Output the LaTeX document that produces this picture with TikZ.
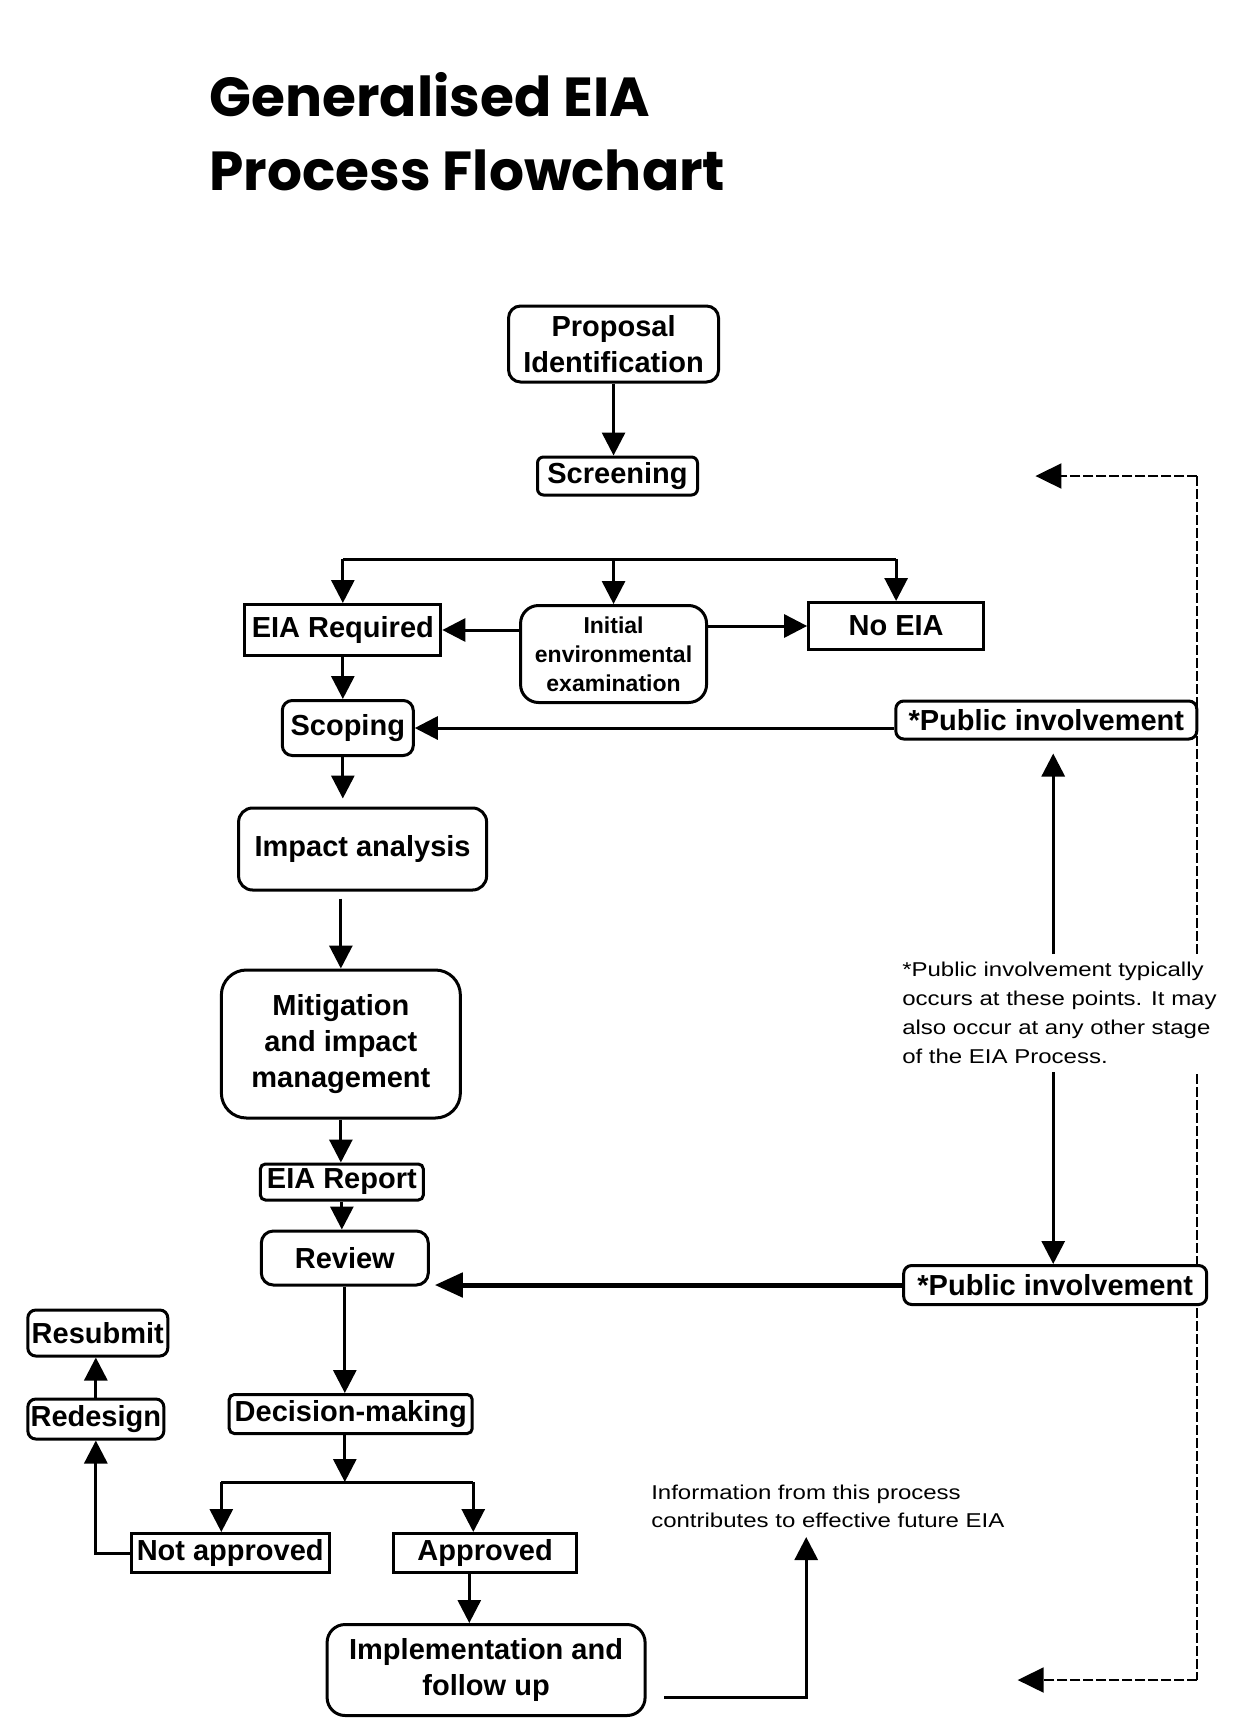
\documentclass[tikz,border=0pt]{standalone}
\usepackage{fontspec}
\setmainfont{Liberation Sans}
\newfontfamily\titlefont{Poppins}
\newfontfamily\notefont[FakeStretch=1.2]{Liberation Sans}
\usetikzlibrary{arrows.meta,calc}

\begin{document}
\begin{tikzpicture}[x=0.988pt,y=-1pt,
    box/.style={draw,line width=3pt,fill=white,inner sep=0pt,align=center,
        font=\fontsize{29}{36}\selectfont\bfseries},
    rbox/.style={box,rounded corners=#1},
    rbox/.default=10pt,
    link/.style={line width=3pt},
    arr/.style={line width=3pt,-{Triangle[length=23pt,width=23pt]}},
    dashline/.style={line width=2pt,dash pattern=on 10pt off 3pt,
        -{Triangle[length=26pt,width=25pt]}},
    note/.style={align=left,inner xsep=0pt,inner ysep=0pt,fill=white,
        font=\notefont\fontsize{20}{29}\selectfont}]
            \useasboundingbox (0,0) rectangle (1253,1733);
            % title
            \node [anchor=base west, inner sep=0pt,
                font=\titlefont\bfseries\fontsize{55}{74}\selectfont] (title) at (212,116) {Generalised EIA};
            \node [anchor=base west, inner sep=0pt,
                font=\titlefont\bfseries\fontsize{55}{74}\selectfont] (subtitle) at (212,190) {Process Flowchart};
            % dashed return path (drawn first, boxes lie over it)
            \coordinate (fbtop) at (1048,476);
            \coordinate (fbbot) at (1030,1680);
            \coordinate (fbside) at (1212,1000);
            \draw [line width=2pt, dash pattern=on 10pt off 3pt] (fbside |- fbtop) -- (fbside |- fbbot);
            \draw [dashline] (fbside |- fbtop) -- (fbtop);
            \draw [dashline] (fbside |- fbbot) -- (fbbot);
            % upper part
            \node [rbox=12pt, minimum width=210pt, minimum height=76pt] (prop) at (621,344) {Proposal\\Identification};
            \node [rbox=6pt, minimum width=160pt, minimum height=38pt] (screen) at (625,476) {Screening};
            \draw [arr] (prop.south) -- (prop.south |- screen.north);
            \coordinate (split) at (621,559);
            \node [rbox=18pt, minimum width=186pt, minimum height=97pt,
                font=\fontsize{23}{29}\selectfont\bfseries] (iee) at (621,654) {Initial\\environmental\\examination};
            \node [box, minimum width=196pt, minimum height=51pt] (eiareq) at (347,630) {EIA Required};
            \node [box, minimum width=175pt, minimum height=47pt] (noeia) at (907,626) {No EIA};
            \draw [link] (split -| prop.south) -- (split);
            \draw [link] (eiareq.north |- split) -- (noeia.north |- split);
            \draw [arr] (split) -- (iee.north);
            \draw [arr] (eiareq.north |- split) -- (eiareq.north);
            \draw [arr] (noeia.north |- split) -- (noeia.north);
            \draw [arr] (iee.west |- eiareq) -- (eiareq.east);
            \draw [arr] (iee.east |- noeia) -- (noeia.west);
            \node [rbox=10pt, minimum width=131pt, minimum height=55pt] (scoping) at (352,728) {Scoping};
            \draw [arr] (eiareq.south) -- (eiareq.south |- scoping.north);
            \node [rbox=8pt, minimum width=301pt, minimum height=38pt] (pubA) at (1059,720) {*Public involvement};
            \draw [arr] (pubA.west |- scoping) -- (scoping.east);
            % middle part
            \node [rbox=14pt, minimum width=248pt, minimum height=82pt] (impact) at (367,849) {Impact analysis};
            \draw [arr, shorten >=8pt] (eiareq.south |- scoping.south) -- (eiareq.south |- impact.north);
            \node [rbox=25pt, minimum width=239pt, minimum height=148pt] (mitig) at (345,1044) {Mitigation\\and impact\\management};
            \draw [arr, shorten <=7pt] (mitig.north |- impact.south) -- (mitig.north);
            \node [rbox=5pt, minimum width=163pt, minimum height=36pt] (report) at (346,1182) {EIA Report};
            \draw [arr] (mitig.south) -- (mitig.south |- report.north);
            \node [rbox=12pt, minimum width=167pt, minimum height=54pt] (review) at (349,1258) {Review};
            \draw [arr] (report.south) -- (report.south |- review.north);
            \node [rbox=8pt, minimum width=303pt, minimum height=39pt] (pubB) at (1068,1285) {*Public involvement};
            \draw [line width=5pt, -{Triangle[length=28pt,width=24pt]}, shorten >=5pt] (pubB.west) -- (pubB.west -| review.east);
            \node [note, anchor=north west, inner ysep=8pt] (remark) at (913,954) {*Public involvement typically\\occurs at these points. It may\\also occur at any other stage\\of the EIA Process.};
            \coordinate (riser) at (1066,1016);
            \draw [arr, shorten >=13pt] (remark.north -| riser) -- (riser |- pubA.south);
            \draw [arr] (remark.south -| riser) -- (riser |- pubB.north);
            % lower part
            \node [rbox=5pt, minimum width=243pt, minimum height=39pt] (decide) at (355,1414) {Decision-making};
            \draw [arr] (review.south) -- (review.south |- decide.north);
            \coordinate (fork) at (349,1482);
            \coordinate (forkL) at (224,1482);
            \coordinate (forkR) at (479,1482);
            \draw [arr] (decide.south -| fork) -- (fork);
            \draw [link] (forkL) -- (forkR);
            \node [box, minimum width=198pt, minimum height=39pt] (reject) at (233,1553) {Not approved};
            \node [box, minimum width=183pt, minimum height=39pt] (accept) at (491,1553) {Approved};
            \draw [arr] (forkL) -- (forkL |- reject.north);
            \draw [arr] (forkR) -- (forkR |- accept.north);
            \node [rbox=8pt, minimum width=136pt, minimum height=40pt] (redesign) at (97,1419) {Redesign};
            \node [rbox=8pt, minimum width=140pt, minimum height=46pt] (resubmit) at (99,1333) {Resubmit};
            \draw [arr] (reject.west) -| (redesign.south);
            \draw [arr] (redesign.north) -- (redesign.north |- resubmit.south);
            \node [rbox=18pt, minimum width=318pt, minimum height=91pt] (implement) at (492,1670) {Implementation and\\follow up};
            \draw [arr] ($(accept.south)+(-16,0)$) -- ($(accept.south |- implement.north)+(-16,0)$);
            \node [note, anchor=north west, font=\notefont\fontsize{20}{28}\selectfont] (info) at (659,1485) {Information from this process\\contributes to effective future EIA};
            \coordinate (inforise) at (816,1537);
            \draw [arr] ($(implement.east)+(18,27)$) -| (inforise);
        \end{tikzpicture}
\end{document}
